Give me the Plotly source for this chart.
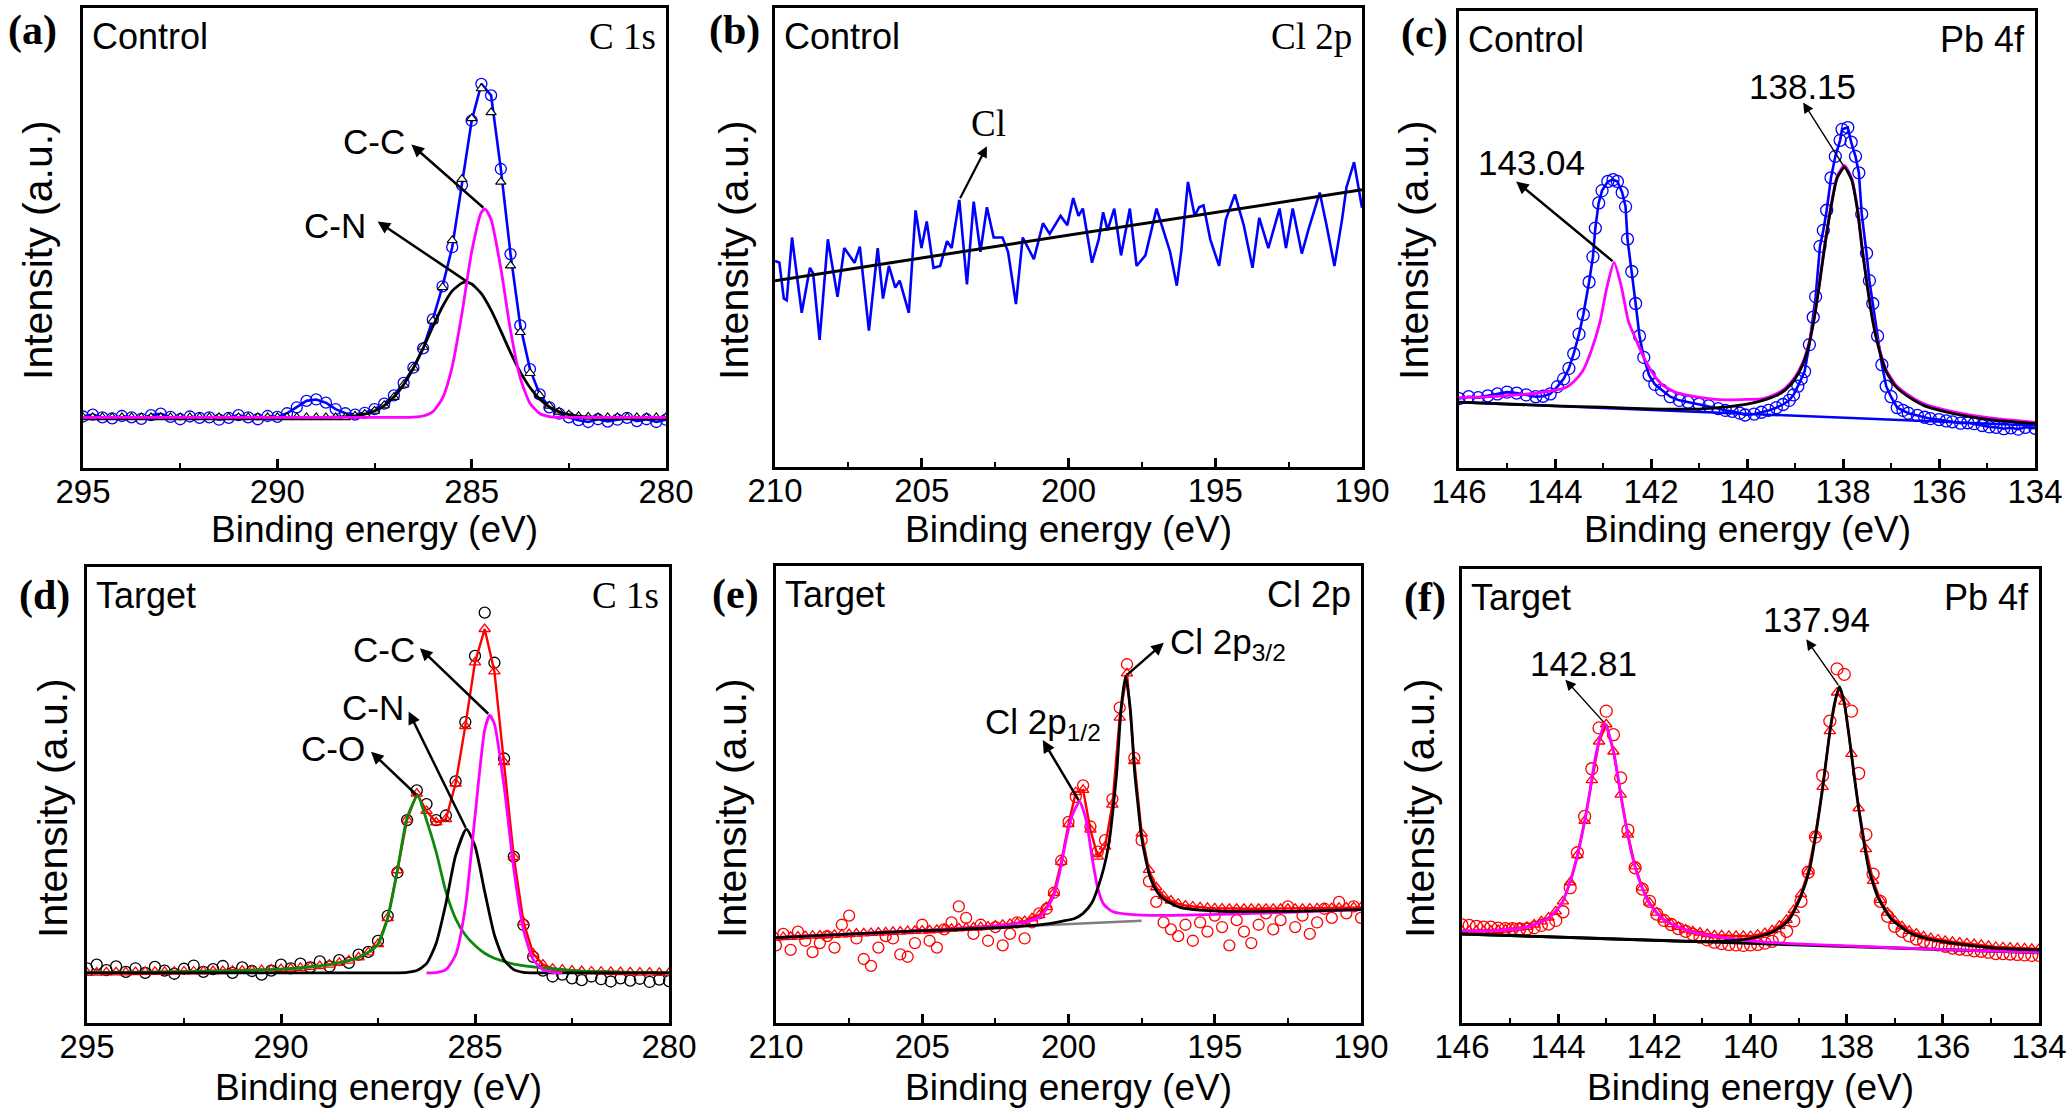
import plotly.graph_objects as go

W, H = 2070, 1112

# ---------------- energy grids (eV) ----------------
E_c1s = [295.0, 294.75, 294.5, 294.25, 294.0, 293.75, 293.5, 293.25, 293.0, 292.75,
         292.5, 292.25, 292.0, 291.75, 291.5, 291.25, 291.0, 290.75, 290.5, 290.25,
         290.0, 289.75, 289.5, 289.25, 289.0, 288.75, 288.5, 288.25, 288.0, 287.75,
         287.5, 287.25, 287.0, 286.75, 286.5, 286.25, 286.0, 285.75, 285.5, 285.25,
         285.0, 284.75, 284.5, 284.25, 284.0, 283.75, 283.5, 283.25, 283.0, 282.75,
         282.5, 282.25, 282.0, 281.75, 281.5, 281.25, 281.0, 280.75, 280.5, 280.25,
         280.0]
E_cl = [210.0, 209.75, 209.5, 209.25, 209.0, 208.75, 208.5, 208.25, 208.0, 207.75,
        207.5, 207.25, 207.0, 206.75, 206.5, 206.25, 206.0, 205.75, 205.5, 205.25,
        205.0, 204.75, 204.5, 204.25, 204.0, 203.75, 203.5, 203.25, 203.0, 202.75,
        202.5, 202.25, 202.0, 201.75, 201.5, 201.25, 201.0, 200.75, 200.5, 200.25,
        200.0, 199.75, 199.5, 199.25, 199.0, 198.75, 198.5, 198.25, 198.0, 197.75,
        197.5, 197.25, 197.0, 196.75, 196.5, 196.25, 196.0, 195.75, 195.5, 195.25,
        195.0, 194.75, 194.5, 194.25, 194.0, 193.75, 193.5, 193.25, 193.0, 192.75,
        192.5, 192.25, 192.0, 191.75, 191.5, 191.25, 191.0, 190.75, 190.5, 190.25,
        190.0]
E_pb = [146.0, 145.85, 145.7, 145.55, 145.4, 145.25, 145.1, 144.95, 144.8, 144.65,
        144.5, 144.35, 144.2, 144.05, 143.9, 143.75, 143.6, 143.45, 143.3, 143.15,
        143.0, 142.85, 142.7, 142.55, 142.4, 142.25, 142.1, 141.95, 141.8, 141.65,
        141.5, 141.35, 141.2, 141.05, 140.9, 140.75, 140.6, 140.45, 140.3, 140.15,
        140.0, 139.85, 139.7, 139.55, 139.4, 139.25, 139.1, 138.95, 138.8, 138.65,
        138.5, 138.35, 138.2, 138.05, 137.9, 137.75, 137.6, 137.45, 137.3, 137.15,
        137.0, 136.85, 136.7, 136.55, 136.4, 136.25, 136.1, 135.95, 135.8, 135.65,
        135.5, 135.35, 135.2, 135.05, 134.9, 134.75, 134.6, 134.45, 134.3, 134.15,
        134.0]

# ---------------- (a) Control C 1s ----------------
a_data = [11.2, 11.6, 11.0, 10.8, 11.3, 11.0, 10.7, 11.5, 11.8, 11.1,
          10.6, 11.2, 10.9, 11.0, 10.5, 10.9, 11.5, 11.0, 10.6, 11.3,
          11.1, 11.9, 13.2, 14.6, 14.9, 14.2, 12.8, 11.9, 11.6, 12.0,
          12.8, 14.0, 15.8, 18.5, 21.8, 26.0, 32.3, 39.5, 48.0, 61.5,
          75.5, 83.5, 81.0, 65.0, 46.5, 31.0, 21.5, 16.0, 13.2, 11.8,
          11.0, 10.4, 10.0, 10.6, 10.1, 10.5, 10.9, 10.2, 10.6, 10.0, 10.5]
a_env = [11.0, 11.0, 11.0, 11.0, 11.0, 11.0, 11.0, 11.0, 11.0, 11.0,
         11.0, 11.0, 11.0, 11.0, 11.0, 11.0, 11.0, 11.0, 11.0, 11.0,
         11.0, 11.0, 11.0, 11.0, 11.0, 11.0, 11.0, 11.0, 11.3, 11.7,
         12.4, 13.6, 15.4, 18.1, 21.8, 26.3, 32.0, 39.3, 49.5, 62.8,
         76.0, 82.5, 77.3, 62.2, 44.0, 29.5, 20.6, 15.8, 13.5, 12.2,
         11.6, 11.25, 11.1, 11.0, 11.0, 11.0, 11.0, 11.0, 11.0, 11.0, 11.0]
a_cn_E = [295.0, 290.0, 289.0, 288.5, 288.0, 287.75, 287.5, 287.25, 287.0, 286.75,
          286.5, 286.25, 286.0, 285.75, 285.5, 285.25, 285.15, 285.0, 284.75, 284.5,
          284.25, 284.0, 283.75, 283.5, 283.25, 283.0, 282.75, 282.5, 282.25, 282.0,
          281.5, 280.0]
a_cn = [11.0, 11.0, 11.02, 11.06, 11.33, 11.69, 12.38, 13.55, 15.42, 18.12,
        21.7, 26.0, 30.7, 35.1, 38.5, 40.2, 40.4, 40.0, 37.9, 34.3,
        29.8, 25.1, 20.9, 17.5, 15.0, 13.27, 12.21, 11.6, 11.25, 11.1,
        11.02, 11.0]
a_cc_E = [295.0, 287.0, 286.5, 286.25, 286.0, 285.75, 285.5, 285.25, 285.0, 284.75,
          284.65, 284.5, 284.25, 284.0, 283.75, 283.5, 283.25, 283.0, 282.75, 282.0, 280.0]
a_cc = [11.0, 11.0, 11.05, 11.3, 12.25, 15.2, 22.05, 33.6, 47.0, 55.6,
        56.3, 54.0, 43.4, 29.9, 19.6, 14.07, 11.85, 11.18, 11.03, 11.0, 11.0]

# ---------------- (b) Control Cl 2p ----------------
b_E = [210.0, 209.85, 209.7, 209.6, 209.42, 209.09, 208.81, 208.7, 208.48, 208.2,
       207.87, 207.64, 207.29, 207.11, 206.8, 206.5, 206.32, 206.12, 205.9, 205.75,
       205.44, 205.21, 205.01, 204.83, 204.6, 204.37, 204.14, 203.98, 203.72, 203.46,
       203.23, 203.0, 202.78, 202.55, 202.25, 202.06, 201.79, 201.56, 201.18, 200.87,
       200.64, 200.27, 200.04, 199.84, 199.66, 199.51, 199.2, 198.97, 198.82, 198.67,
       198.44, 198.21, 197.91, 197.68, 197.38, 197.0, 196.77, 196.54, 196.31, 196.16,
       195.93, 195.7, 195.55, 195.4, 195.17, 194.87, 194.64, 194.33, 194.03, 193.73,
       193.5, 193.19, 192.81, 192.59, 192.36, 192.05, 191.83, 191.44, 191.21, 190.94,
       190.68, 190.53, 190.27, 190.05, 190.0]
b_I = [44.9, 44.5, 36.7, 36.3, 50.0, 33.6, 43.4, 42.2, 27.7, 49.6,
       37.1, 47.7, 44.5, 48.0, 29.7, 47.7, 36.7, 43.8, 39.1, 40.6,
       33.6, 55.9, 47.7, 53.5, 43.4, 43.8, 49.2, 47.7, 58.2, 39.8,
       57.8, 46.9, 56.6, 50.0, 50.0, 46.9, 35.5, 50.0, 45.3, 53.1,
       50.8, 54.7, 52.7, 58.6, 54.7, 56.3, 44.5, 49.6, 55.5, 51.6,
       56.3, 46.1, 56.3, 43.8, 46.1, 56.3, 51.6, 46.9, 39.5, 46.9,
       62.1, 54.7, 56.6, 57.0, 49.6, 43.8, 53.9, 59.4, 52.7, 43.4,
       54.3, 47.7, 56.3, 47.7, 56.3, 46.5, 51.6, 59.8, 52.7, 43.8,
       53.9, 60.9, 66.4, 57.8, 56.5]
b_fit_E = [210.0, 190.0]
b_fit = [40.6, 60.4]

# ---------------- (c) Control Pb 4f ----------------
c_E = [146.0, 145.8, 145.6, 145.4, 145.2, 145.0, 144.8, 144.6, 144.4, 144.25,
       144.1, 143.95, 143.82, 143.71, 143.61, 143.5, 143.41, 143.29, 143.21, 143.16,
       143.09, 143.02, 142.9, 142.79, 142.7, 142.6, 142.53, 142.49, 142.4, 142.32,
       142.24, 142.15, 142.04, 141.92, 141.78, 141.6, 141.41, 141.23, 141.0, 140.8,
       140.6, 140.45, 140.31, 140.15, 140.04, 139.85, 139.7, 139.55, 139.39, 139.25,
       139.12, 139.03, 138.94, 138.87, 138.8, 138.7, 138.62, 138.57, 138.48, 138.41,
       138.34, 138.25, 138.16, 138.06, 138.02, 137.9, 137.83, 137.74, 137.67, 137.61,
       137.51, 137.45, 137.38, 137.28, 137.19, 137.1, 137.0, 136.87, 136.75, 136.64,
       136.45, 136.3, 136.18, 136.0, 135.85, 135.72, 135.55, 135.4, 135.27, 135.1,
       134.95, 134.81, 134.65, 134.5, 134.35, 134.2, 134.0]
c_I = [15.2, 15.6, 15.4, 15.8, 16.2, 16.6, 16.4, 16.0, 15.6, 15.7,
       16.2, 17.8, 19.5, 21.8, 25.0, 29.3, 33.6, 40.7, 46.2, 52.5,
       58.0, 60.7, 62.7, 63.1, 62.7, 60.3, 57.2, 50.1, 43.0, 36.0,
       28.9, 24.2, 20.3, 18.3, 17.1, 15.6, 14.8, 14.4, 14.0, 13.6,
       13.0, 12.6, 12.4, 12.0, 11.6, 11.8, 12.2, 12.6, 13.2, 13.9,
       14.8, 16.0, 17.9, 19.5, 21.1, 27.0, 33.0, 37.5, 48.5, 52.0,
       56.4, 63.5, 68.2, 71.7, 74.1, 74.5, 71.3, 68.2, 64.6, 55.6,
       47.0, 41.0, 36.0, 28.9, 22.6, 17.9, 15.6, 13.2, 12.6, 12.0,
       11.5, 11.1, 10.8, 10.6, 10.3, 10.1, 9.8, 9.9, 9.7, 9.3,
       9.0, 8.9, 8.6, 8.8, 8.5, 8.9, 8.7]
c_base_E = [146.0, 134.0]
c_base = [14.4, 9.3]
c_black_E = [146.0, 145.0, 144.0, 143.0, 142.0, 141.0, 140.5, 140.0, 139.67, 139.4,
             139.2, 139.0, 138.84, 138.72, 138.61, 138.5, 138.39, 138.25, 138.12, 137.97,
             137.82, 137.7, 137.6, 137.49, 137.38, 137.25, 137.1, 136.9, 136.64, 136.3,
             135.9, 135.4, 134.8, 134.0]
c_black = [14.4, 14.0, 13.6, 13.3, 12.95, 12.9, 13.3, 14.0, 14.8, 15.8,
           17.1, 19.5, 22.6, 26.5, 32.1, 39.5, 47.8, 57.0, 63.5, 65.8,
           63.0, 56.5, 47.8, 39.5, 32.1, 26.0, 21.1, 17.8, 15.6, 13.6,
           12.4, 11.3, 10.4, 9.7]
c_pink_E = [146.0, 145.36, 144.8, 144.44, 144.1, 143.8, 143.6, 143.43, 143.25, 143.06,
            142.92, 142.77, 142.62, 142.47, 142.3, 142.15, 141.95, 141.78, 141.5, 141.23,
            140.8, 140.4, 140.0, 139.67, 139.4, 139.2, 139.0, 138.84, 138.72, 138.61,
            138.5, 138.39, 138.25, 138.12, 137.97, 137.82, 137.7, 137.6, 137.49, 137.38,
            137.25, 137.1, 136.9, 136.64, 136.3, 135.9, 135.4, 134.8, 134.0]
c_pink = [15.4, 15.6, 16.0, 16.3, 16.9, 17.5, 19.0, 21.1, 25.5, 32.1,
          39.5, 45.0, 39.8, 32.1, 27.8, 24.2, 20.5, 18.3, 16.6, 15.9,
          15.2, 14.9, 15.0, 15.2, 16.2, 17.5, 19.9, 23.0, 26.9, 32.5,
          39.9, 48.2, 57.4, 63.9, 66.2, 63.4, 56.9, 48.2, 39.9, 32.5,
          26.4, 21.5, 18.2, 16.0, 14.0, 12.8, 11.7, 10.8, 10.0]

# ---------------- (d) Target C 1s ----------------
d_data = [12.0, 12.8, 11.6, 12.4, 11.2, 12.0, 11.0, 12.3, 11.5, 10.8,
          11.9, 12.6, 11.2, 11.8, 12.5, 11.0, 12.2, 11.4, 10.6, 11.5,
          12.8, 12.0, 13.0, 12.2, 13.5, 12.4, 13.8, 13.2, 15.0, 15.6,
          18.0, 23.5, 33.0, 44.5, 51.0, 48.0, 44.5, 45.5, 53.0, 66.0,
          80.5, 90.0, 79.0, 58.0, 36.5, 21.5, 14.5, 11.5, 10.2, 10.6,
          9.8, 9.4, 10.2, 9.6, 9.1, 9.8, 9.3, 9.7, 9.0, 9.5, 9.2]
d_env = [11.0, 11.05, 11.1, 11.1, 11.1, 11.15, 11.2, 11.2, 11.2, 11.25,
         11.3, 11.3, 11.3, 11.4, 11.4, 11.45, 11.5, 11.55, 11.6, 11.7,
         11.8, 11.95, 12.1, 12.3, 12.5, 12.8, 13.2, 13.7, 14.4, 15.5,
         17.3, 23.0, 33.5, 44.6, 50.3, 46.5, 44.0, 44.7, 52.5, 65.1,
         79.1, 86.4, 77.1, 57.2, 36.4, 22.1, 15.2, 12.8, 11.9, 11.7,
         11.5, 11.4, 11.3, 11.25, 11.2, 11.15, 11.1, 11.05, 11.05, 11.0, 11.0]
d_co_E = [295.0, 294.0, 293.0, 292.0, 291.0, 290.5, 290.0, 289.5, 289.0, 288.5,
          288.25, 288.0, 287.75, 287.5, 287.25, 287.0, 286.75, 286.48, 286.25, 286.0,
          285.75, 285.5, 285.25, 285.0, 284.75, 284.5, 284.25, 284.0, 283.5, 283.0,
          282.5, 282.0, 281.0, 280.0]
d_co = [11.0, 11.1, 11.2, 11.3, 11.5, 11.6, 11.8, 12.1, 12.5, 13.2,
        13.7, 14.4, 15.5, 17.3, 23.0, 33.5, 45.0, 49.8, 44.5, 37.5,
        28.8, 22.9, 19.3, 17.0, 15.3, 14.2, 13.5, 12.9, 12.3, 11.9,
        11.5, 11.3, 11.1, 11.0]
d_cn_E = [295.0, 287.0, 286.75, 286.5, 286.25, 286.0, 285.75, 285.5, 285.22, 285.0,
          284.75, 284.5, 284.25, 284.0, 283.75, 283.5, 280.0]
d_cn = [11.0, 11.0, 11.1, 11.5, 13.0, 17.5, 26.2, 36.7, 42.5, 38.8,
        28.8, 19.3, 13.8, 11.7, 11.1, 11.0, 11.0]
d_cc_E = [286.25, 286.0, 285.75, 285.5, 285.25, 285.0, 284.75, 284.62, 284.5, 284.25,
          284.0, 283.75, 283.5, 283.25, 283.0, 282.75]
d_cc = [11.0, 11.05, 11.7, 14.9, 25.3, 45.3, 64.3, 67.5, 65.6, 51.9,
        33.8, 20.4, 13.9, 11.7, 11.1, 11.0]

# ---------------- (e) Target Cl 2p ----------------
e_data = [17.0, 19.5, 16.0, 20.0, 18.0, 15.5, 17.5, 19.0, 16.5, 21.5,
          23.5, 18.5, 14.0, 12.5, 16.5, 19.0, 18.5, 15.0, 14.5, 17.5,
          21.5, 18.0, 16.5, 20.5, 22.0, 25.5, 23.0, 19.5, 21.5, 18.0,
          21.0, 17.0, 19.5, 22.0, 18.5, 22.0, 24.0, 25.0, 28.5, 35.5,
          44.0, 49.5, 52.0, 43.0, 37.5, 40.0, 49.0, 69.0, 78.5, 58.0,
          40.0, 31.0, 26.5, 22.0, 20.5, 19.0, 21.5, 18.0, 22.0, 20.0,
          23.5, 21.0, 17.0, 22.5, 20.0, 17.5, 21.5, 24.0, 20.5, 22.5,
          25.5, 21.0, 23.5, 19.5, 22.0, 25.0, 23.0, 26.5, 24.0, 25.5, 23.0]
e_env = [18.7, 18.8, 18.85, 18.9, 19.0, 19.1, 19.15, 19.2, 19.3, 19.4,
         19.45, 19.55, 19.6, 19.7, 19.8, 19.85, 19.95, 20.0, 20.1, 20.15,
         20.2, 20.3, 20.4, 20.5, 20.6, 20.7, 20.8, 20.9, 21.0, 21.1,
         21.3, 21.5, 21.7, 21.9, 22.3, 22.9, 23.6, 25.35, 28.5, 35.25,
         43.5, 50.5, 51.0, 42.3, 36.4, 38.6, 47.8, 66.8, 76.5, 57.3,
         41.5, 33.5, 29.7, 27.8, 26.8, 26.1, 25.7, 25.5, 25.3, 25.2,
         25.1, 25.05, 25.0, 25.0, 25.0, 25.0, 25.0, 25.0, 25.0, 25.0,
         25.0, 25.0, 25.0, 25.05, 25.1, 25.1, 25.15, 25.2, 25.25, 25.3, 25.3]
e_gray_E = [210.0, 205.0, 201.0, 199.0, 197.5]
e_gray = [18.7, 20.2, 21.3, 21.9, 22.4]
e_pink_E = [210.0, 207.0, 205.0, 203.8, 202.5, 201.5, 201.0, 200.75, 200.5, 200.3,
            200.1, 199.9, 199.62, 199.4, 199.2, 199.0, 198.8, 198.5, 198.0, 197.5,
            196.0, 193.0, 190.0]
e_pink = [18.7, 19.6, 20.2, 20.6, 21.2, 22.1, 23.2, 25.0, 28.0, 33.0,
          39.5, 45.0, 48.4, 44.5, 36.5, 29.5, 26.0, 24.4, 23.8, 23.6,
          23.6, 24.1, 24.8]
e_black_E = [210.0, 205.0, 202.26, 200.73, 200.2, 199.81, 199.5, 199.2, 198.89, 198.7,
             198.58, 198.45, 198.35, 198.2, 198.05, 197.89, 197.74, 197.62, 197.51, 197.35,
             197.2, 196.95, 196.74, 196.4, 196.13, 195.5, 194.6, 192.0, 190.0]
e_black = [18.7, 20.2, 20.9, 21.7, 22.3, 22.8, 24.0, 26.3, 31.7, 36.5,
           41.0, 48.5, 55.0, 68.9, 75.9, 68.9, 55.0, 47.5, 41.0, 35.5,
           31.7, 28.5, 27.1, 25.9, 25.2, 24.7, 24.4, 24.5, 24.8]

# ---------------- (f) Target Pb 4f ----------------
f_data = [21.6, 21.5, 21.3, 21.1, 21.1, 20.9, 20.8, 20.8, 20.7, 20.7,
          21.0, 21.5, 21.8, 22.6, 24.5, 29.8, 37.5, 45.5, 56.0, 65.0,
          68.7, 63.5, 54.0, 42.5, 34.2, 29.5, 26.8, 24.0, 22.6, 21.7,
          20.8, 20.2, 19.5, 18.9, 18.3, 17.8, 17.5, 17.3, 17.2, 17.1,
          17.2, 17.3, 17.6, 18.0, 18.8, 20.2, 22.5, 26.8, 33.2, 41.0,
          54.5, 66.5, 78.0, 76.8, 68.7, 55.0, 41.5, 32.8, 26.8, 23.5,
          21.3, 20.2, 19.2, 18.5, 18.0, 17.6, 17.2, 16.9, 16.5, 16.3,
          16.1, 15.9, 15.8, 15.6, 15.3, 15.3, 15.2, 15.1, 15.0, 14.9, 14.9]
f_env = [20.3, 20.3, 20.3, 20.3, 20.35, 20.45, 20.6, 20.8, 21.0, 21.2,
         21.7, 22.4, 23.2, 24.6, 26.8, 31.0, 37.0, 44.5, 53.5, 62.0,
         65.8, 59.8, 50.3, 41.5, 34.5, 29.8, 26.5, 24.3, 22.8, 21.8,
         21.2, 20.6, 20.2, 19.9, 19.6, 19.3, 19.3, 19.2, 19.2, 19.2,
         19.15, 19.45, 19.8, 20.4, 21.4, 22.7, 24.9, 28.4, 33.4, 41.4,
         52.0, 64.3, 72.8, 70.8, 59.3, 47.3, 38.3, 31.3, 27.1, 24.3,
         22.5, 21.3, 20.3, 19.7, 19.1, 18.7, 18.4, 18.1, 17.9, 17.7,
         17.55, 17.4, 17.2, 17.0, 16.75, 16.65, 16.6, 16.5, 16.45, 16.35, 16.3]
f_base_E = [146.0, 134.0]
f_base = [19.6, 15.5]
f_pink_E = [146.0, 145.41, 144.67, 144.22, 143.94, 143.76, 143.58, 143.39, 143.21, 143.03,
            142.84, 142.66, 142.48, 142.29, 142.11, 141.84, 141.29, 140.56, 139.92, 138.54,
            135.8, 134.0]
f_pink = [20.3, 20.3, 21.1, 23.0, 26.1, 30.8, 37.7, 47.8, 59.4, 66.0,
          59.4, 47.8, 37.7, 30.8, 26.5, 23.0, 20.3, 18.8, 18.0, 17.2,
          16.1, 15.5]
f_black_E = [146.0, 144.0, 142.0, 141.0, 140.19, 139.85, 139.55, 139.35, 139.18, 138.96,
             138.77, 138.64, 138.5, 138.36, 138.25, 138.15, 138.05, 137.95, 137.81, 137.67,
             137.54, 137.35, 137.08, 136.71, 136.3, 135.8, 134.88, 134.0]
f_black = [19.6, 18.9, 18.2, 17.95, 18.3, 19.0, 20.0, 21.3, 23.0, 27.7,
           33.9, 41.6, 51.7, 63.3, 70.5, 74.1, 70.5, 63.3, 51.7, 41.6,
           33.9, 27.7, 23.0, 20.0, 18.5, 17.6, 16.5, 16.1]

# ---------------- text ----------------
panel_letters = ["(a)", "(b)", "(c)", "(d)", "(e)", "(f)"]
sample_names = ["Control", "Control", "Control", "Target", "Target", "Target"]
core_levels = ["C 1s", "Cl 2p", "Pb 4f", "C 1s", "Cl 2p", "Pb 4f"]
x_ranges = [[295, 280], [210, 190], [146, 134], [295, 280], [210, 190], [146, 134]]
x_dticks = [5, 5, 2, 5, 5, 2]
x_minor = [2.5, 2.5, 1, 2.5, 2.5, 1]

# ---------------- layout geometry (pixels) ----------------
frames = [(83, 8, 666, 468), (775, 8, 1362, 467), (1459, 11, 2035, 468),
          (87, 567, 669, 1023), (776, 566, 1361, 1023), (1462, 569, 2039, 1023)]
letter_x = [32, 734, 1424, 44, 735, 1425]
ytitle_x = [38, 734, 1414, 53, 732, 1420]

for arr_pair in [(E_c1s, a_data), (E_c1s, a_env), (a_cn_E, a_cn), (a_cc_E, a_cc),
                 (b_E, b_I), (c_E, c_I), (c_black_E, c_black), (c_pink_E, c_pink),
                 (E_c1s, d_data), (E_c1s, d_env), (d_co_E, d_co), (d_cn_E, d_cn),
                 (d_cc_E, d_cc), (E_cl, e_data), (E_cl, e_env), (e_pink_E, e_pink),
                 (e_black_E, e_black), (E_pb, f_data), (E_pb, f_env),
                 (f_pink_E, f_pink), (f_black_E, f_black)]:
    assert len(arr_pair[0]) == len(arr_pair[1]), (len(arr_pair[0]), len(arr_pair[1]))


def px(x):
    return x / W


def py(y):
    return 1 - y / H


BLUE = "#0000FF"
PINK = "#FF00FF"
RED = "#FF0000"
GREEN = "#0A8A0A"
BLACK = "#000000"
GRAY = "#7F7F7F"
FIT_W = 2.8

fig = go.Figure()


def ax(i):
    return ("x" if i == 0 else "x%d" % (i + 1)), ("y" if i == 0 else "y%d" % (i + 1))


def line(i, xs, ys, color, width=FIT_W, shape="spline"):
    xa, ya = ax(i)
    fig.add_trace(go.Scatter(x=xs, y=ys, mode="lines", xaxis=xa, yaxis=ya,
                             line=dict(color=color, width=width, shape=shape, smoothing=0.6),
                             showlegend=False, hoverinfo="skip"))


def markers(i, xs, ys, symbol, color, size, fill=None, lw=1.3, with_line=False, lcolor=None, lwidth=2.5):
    xa, ya = ax(i)
    fig.add_trace(go.Scatter(
        x=xs, y=ys, mode="lines+markers" if with_line else "markers", xaxis=xa, yaxis=ya,
        marker=dict(symbol=symbol, size=size, color=fill if fill else color,
                    line=dict(color=color, width=lw)),
        line=dict(color=lcolor if lcolor else color, width=lwidth),
        showlegend=False, hoverinfo="skip"))


# (a)
markers(0, E_c1s, a_data, "circle-open", BLUE, 11, with_line=True, lwidth=2.6)
markers(0, E_c1s, a_env, "triangle-up", BLACK, 9, fill="white", lw=1.1)
line(0, a_cn_E, a_cn, BLACK)
line(0, a_cc_E, a_cc, PINK)
# (b)
line(1, b_E, b_I, BLUE, width=2.6, shape="linear")
line(1, b_fit_E, b_fit, BLACK, width=3, shape="linear")
# (c)
markers(2, c_E, c_I, "circle-open", BLUE, 12, with_line=True, lwidth=2.6)
line(2, c_base_E, c_base, BLUE, width=2.5, shape="linear")
line(2, c_pink_E, c_pink, PINK)
line(2, c_black_E, c_black, BLACK)
# (d)
markers(3, E_c1s, d_data, "circle-open", BLACK, 11)
markers(3, E_c1s, d_env, "triangle-up-open", RED, 10, with_line=True, lwidth=2.4)
line(3, d_co_E, d_co, GREEN)
line(3, d_cn_E, d_cn, BLACK)
line(3, d_cc_E, d_cc, PINK)
# (e)
markers(4, E_cl, e_data, "circle-open", RED, 11)
markers(4, E_cl, e_env, "triangle-up-open", RED, 10, with_line=True, lwidth=2.4)
line(4, e_gray_E, e_gray, GRAY, width=2.5, shape="linear")
line(4, e_pink_E, e_pink, PINK)
line(4, e_black_E, e_black, BLACK)
# (f)
markers(5, E_pb, f_data, "circle-open", RED, 12)
markers(5, E_pb, f_env, "triangle-up-open", RED, 10, with_line=True, lwidth=2.4)
line(5, f_base_E, f_base, BLACK, width=3, shape="linear")
line(5, f_pink_E, f_pink, PINK)
line(5, f_black_E, f_black, BLACK)

SANS = "Liberation Sans"
SERIF = "Liberation Serif"
layout = dict(width=W, height=H, autosize=False, margin=dict(l=0, r=0, t=0, b=0, pad=0),
              paper_bgcolor="white", plot_bgcolor="white", showlegend=False)
annotations = []
for i in range(6):
    L, T, R, B = frames[i]
    xa = "xaxis" if i == 0 else "xaxis%d" % (i + 1)
    ya = "yaxis" if i == 0 else "yaxis%d" % (i + 1)
    xn, yn = ax(i)
    layout[xa] = dict(domain=[px(L), px(R)], anchor=yn, range=x_ranges[i], automargin=False,
                      showline=True, mirror=True, linecolor="black", linewidth=3,
                      ticks="inside", ticklen=9, tickwidth=2.5, tickcolor="black",
                      tick0=x_ranges[i][1], dtick=x_dticks[i],
                      minor=dict(ticks="inside", ticklen=5, tickwidth=2, tickcolor="black",
                                 dtick=x_minor[i], tick0=x_ranges[i][1], showgrid=False),
                      showgrid=False, zeroline=False, ticklabelstandoff=-8,
                      tickfont=dict(family=SANS, size=33, color="black"))
    layout[ya] = dict(domain=[py(B), py(T)], anchor=xn, range=[0, 100], automargin=False,
                      showline=True, mirror=True, linecolor="black", linewidth=3,
                      ticks="", showticklabels=False, showgrid=False, zeroline=False)
    # panel letter
    annotations.append(dict(xref="paper", yref="paper", x=px(letter_x[i]),
                            y=py(T + 22 if i < 3 else T + 28), xanchor="center", yanchor="middle",
                            text="<b>%s</b>" % panel_letters[i], showarrow=False,
                            font=dict(family=SERIF, size=42, color="black")))
    # sample name
    annotations.append(dict(xref="paper", yref="paper", x=px(L + 7), y=py(T + 28),
                            xanchor="left", yanchor="middle", text=sample_names[i],
                            showarrow=False, font=dict(family=SANS, size=36, color="black")))
    # core level
    serif = i in (0, 1, 3)
    annotations.append(dict(xref="paper", yref="paper", x=px(R - 8), y=py(T + 28),
                            xanchor="right", yanchor="middle", text=core_levels[i],
                            showarrow=False,
                            font=dict(family=SERIF if serif else SANS, size=37 if serif else 36,
                                      color="black")))
    # x title
    annotations.append(dict(xref="paper", yref="paper", x=px((L + R) / 2),
                            y=py(530 if i < 3 else 1087), xanchor="center", yanchor="middle",
                            text="Binding energy (eV)", showarrow=False,
                            font=dict(family=SANS, size=37, color="black")))
    # y title
    annotations.append(dict(xref="paper", yref="paper", x=px(ytitle_x[i]),
                            y=py(250 if i < 3 else 808), xanchor="center", yanchor="middle",
                            text="Intensity (a.u.)", textangle=-90, showarrow=False,
                            font=dict(family=SANS, size=41, color="black")))


def label(i, x, y, text, family=SANS, size=35, xanchor="center"):
    xn, yn = ax(i)
    annotations.append(dict(xref=xn, yref=yn, x=x, y=y, text=text, showarrow=False,
                            xanchor=xanchor, yanchor="middle",
                            font=dict(family=family, size=size, color="black")))


def arrow(i, head, tail, width=2.5, size=1.0):
    xn, yn = ax(i)
    annotations.append(dict(xref=xn, yref=yn, axref=xn, ayref=yn, x=head[0], y=head[1],
                            ax=tail[0], ay=tail[1], text="", showarrow=True, arrowhead=2,
                            arrowsize=size, arrowwidth=width, arrowcolor="black",
                            standoff=0, startstandoff=0))


# (a)
label(0, 287.52, 71.0, "C-C")
arrow(0, (286.55, 70.3), (284.66, 56.3))
label(0, 288.52, 52.8, "C-N")
arrow(0, (287.42, 53.6), (285.1, 40.4))
# (b)
label(1, 202.73, 74.8, "Cl", family=SERIF, size=37)
arrow(1, (202.78, 69.9), (203.72, 58.2), width=2.2)
# (c)
label(2, 144.5, 66.8, "143.04")
arrow(2, (144.81, 62.7), (142.77, 45.0))
label(2, 138.84, 83.5, "138.15")
arrow(2, (138.83, 80.0), (137.97, 65.8), width=1.4, size=1.5)
# (d)
label(3, 287.34, 81.8, "C-C")
arrow(3, (286.42, 82.2), (284.62, 67.5))
label(3, 287.63, 69.1, "C-N")
arrow(3, (286.71, 68.3), (285.22, 42.5))
label(3, 288.66, 60.2, "C-O")
arrow(3, (287.68, 59.5), (286.48, 49.8))
# (e)
label(4, 196.6, 83.0, "Cl 2p<sub>3/2</sub>", xanchor="left")
arrow(4, (196.74, 83.2), (198.05, 75.9))
label(4, 200.88, 65.5, "Cl 2p<sub>1/2</sub>")
arrow(4, (200.88, 61.9), (199.62, 48.4))
# (f)
label(5, 143.48, 79.1, "142.81")
arrow(5, (143.85, 75.6), (143.03, 66.0), width=1.4, size=1.5)
label(5, 138.63, 88.8, "137.94")
arrow(5, (138.84, 84.5), (138.15, 74.1), width=1.4, size=1.5)

layout["annotations"] = annotations
fig.update_layout(**layout)
fig.write_html("out.html")
